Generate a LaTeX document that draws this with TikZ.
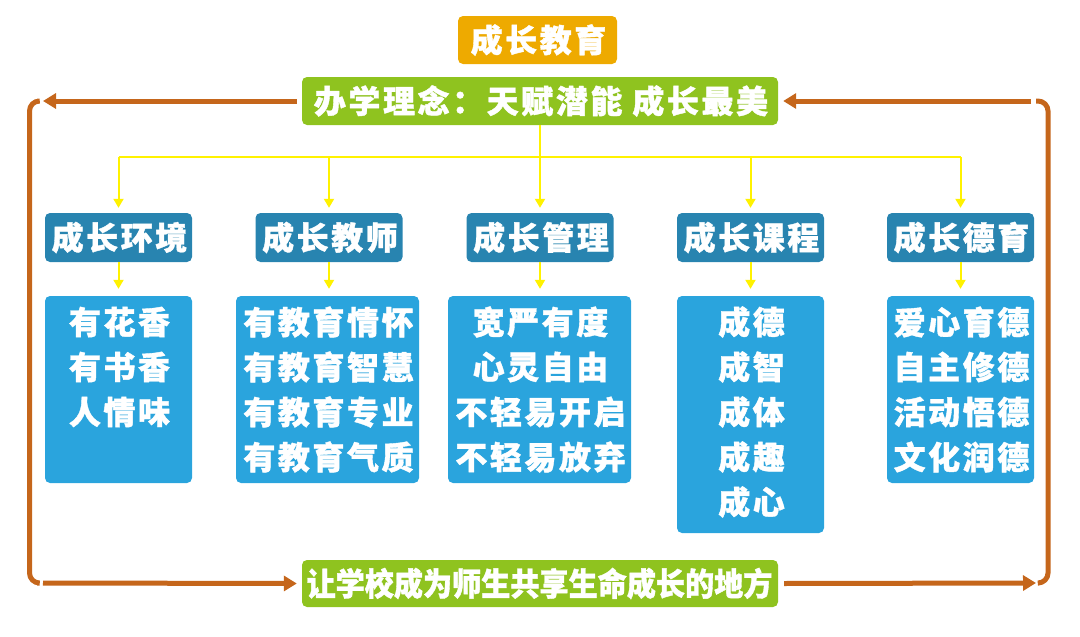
\documentclass[tikz,border=0pt]{standalone}
\usepackage{fontspec}
\usepackage{graphicx}
\newfontfamily\cjk{Noto Sans CJK SC}[BoldFeatures={FakeBold=1.2}]
\usetikzlibrary{arrows.meta}
\definecolor{ttl}{HTML}{EEAA00}
\definecolor{grn}{HTML}{8FC31F}
\definecolor{cat}{HTML}{2884B0}
\definecolor{cnt}{HTML}{2AA4DD}
\definecolor{brn}{HTML}{C5661B}
\definecolor{ylw}{HTML}{FFF200}
\tikzset{
  box/.style={rounded corners=5pt, inner sep=0pt, draw=none},
  txt/.style={text=white, inner sep=0pt, font=\cjk\bfseries\fontsize{32}{32}\selectfont\addfontfeatures{LetterSpace=8}},
  smalltxt/.style={text=white, inner sep=0pt, font=\cjk\bfseries\fontsize{32}{32}\selectfont},
  titlebox/.style={box, fill=ttl, minimum width=159pt, minimum height=48pt},
  greenbox/.style={box, fill=grn, minimum width=476pt, minimum height=48pt},
  catbox/.style={box, fill=cat, minimum width=147pt, minimum height=49pt},
  cntbox/.style={box, fill=cnt},
  brnline/.style={draw=brn, line width=5pt},
  brnarrow/.style={brnline, -{Triangle[length=13pt,width=15pt]}},
  ylwline/.style={draw=ylw, line width=2pt},
  ylwarrow/.style={ylwline, -{Triangle[length=9pt,width=10pt]}},
}
\begin{document}
\begin{tikzpicture}[x=1pt,y=-1pt]
\useasboundingbox (0,0) rectangle (1080,637);
% title
\node[titlebox] (title) at (537.5,40) {};
\node[txt] (titletxt) at (538.5,40) {成长教育};
% green bars
\node[greenbox] (top) at (540,101) {};
\node[txt] (toptxt) at (541,101) {办学理念：天赋潜能 成长最美};
\node[greenbox, minimum height=47pt] (bot) at (540,583.5) {};
\node[smalltxt] (bottxt) at (539.5,583.5) {\scalebox{0.91}[1]{让学校成为师生共享生命成长的地方}};
% brown frame
\coordinate (tl) at (43,101);
\coordinate (tr) at (1031,101);
\coordinate (bl) at (43,583);
\coordinate (br) at (1036,583);
\coordinate (tlc) at (37,101);
\coordinate (trc) at (1036,101);
\coordinate (blc) at (37,583);
\coordinate (brc) at (1039,583);
\draw[brnarrow] ([xshift=-5pt]top.west) -- (tl);
\draw[brnarrow] (tr) -- ([xshift=5pt]top.east);
\draw[brnarrow] (bl) -- ([xshift=-5pt]bot.west);
\draw[brnarrow] ([xshift=6pt]bot.east) -- (br);
\draw[brnline, rounded corners=10pt] (tlc) -- (29.5,101) -- (29.5,583) -- (blc);
\draw[brnline, rounded corners=10pt] (trc) -- (1048,101) -- (1048,583) -- (brc);
% categories
\foreach \i/\x/\t in {1/118.5/成长环境,2/329/成长教师,3/540/成长管理,4/750.5/成长课程,5/960.5/成长德育}{
  \node[catbox] (cat\i) at (\x,237.5) {};
  \node[txt] (cattxt\i) at (\x+1,237.5) {\t};
}
% content boxes
\node[cntbox, minimum width=147pt, minimum height=187pt] (cnt1) at (118.5,389.5) {};
\node[cntbox, minimum width=183pt, minimum height=187pt] (cnt2) at (327.5,389.5) {};
\node[cntbox, minimum width=183pt, minimum height=187pt] (cnt3) at (539.5,389.5) {};
\node[cntbox, minimum width=147pt, minimum height=237pt] (cnt4) at (750.5,414.5) {};
\node[cntbox, minimum width=147pt, minimum height=187pt] (cnt5) at (960.5,389.5) {};
% content text
\foreach \i/\t in {1/有花香,2/有书香,3/人情味}{
  \node[txt] (a\i) at (119.5,{322+45*(\i-1)}) {\t};}
\foreach \i/\t in {1/有教育情怀,2/有教育智慧,3/有教育专业,4/有教育气质}{
  \node[txt] (b\i) at (328.5,{322+45*(\i-1)}) {\t};}
\foreach \i/\t in {1/宽严有度,2/心灵自由,3/不轻易开启,4/不轻易放弃}{
  \node[txt] (c\i) at (540.5,{322+45*(\i-1)}) {\t};}
\foreach \i/\t in {1/成德,2/成智,3/成体,4/成趣,5/成心}{
  \node[txt] (d\i) at (751.5,{322+45*(\i-1)}) {\t};}
\foreach \i/\t in {1/爱心育德,2/自主修德,3/活动悟德,4/文化润德}{
  \node[txt] (e\i) at (961.5,{322+45*(\i-1)}) {\t};}
% yellow connectors
\coordinate (hl) at (118.5,157);
\coordinate (hr) at (960.5,157);
\draw[ylwline] (hl) -- (hr);
\draw[ylwarrow, shorten >=5pt] (top.south) -- (cat3.north);
\foreach \i in {1,2,4,5}{
  \draw[ylwarrow, shorten >=5pt] (cat\i.north |- hl) -- (cat\i.north);
}
\foreach \i in {1,2,3,4,5}{
  \draw[ylwarrow, shorten >=7pt] (cat\i.south) -- (cat\i.south |- cnt\i.north);
}
\end{tikzpicture}
\end{document}
